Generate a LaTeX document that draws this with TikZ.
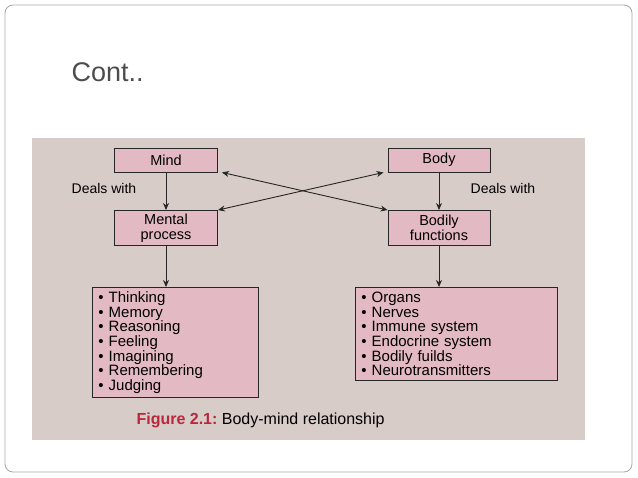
\documentclass[tikz,border=0pt]{standalone}
\usepackage{fontspec}
\setmainfont{Liberation Sans}
\usetikzlibrary{arrows.meta}
\definecolor{photo}{HTML}{D8CCC8}
\definecolor{boxpink}{HTML}{E3B9C3}
\definecolor{capred}{HTML}{B8283A}
\begin{document}
\begin{tikzpicture}[x=1pt,y=-1pt,
  bx/.style={draw=black!85,line width=0.9pt,fill=boxpink,align=center,font=\fontsize{14.5}{15}\selectfont,inner sep=0pt},
  ar/.style={-{Stealth[length=7pt,width=6pt]},line width=0.9pt,black!85},
  lst/.style={draw=black!85,line width=0.9pt,fill=boxpink,align=left,anchor=north west,font=\fontsize{15}{14.7}\selectfont,inner xsep=6pt,inner ysep=4pt,text width=#1}]
\useasboundingbox (0,0) rectangle (638,478);
\draw[black!35,line width=0.8pt,rounded corners=8pt] (5,5) rectangle (632,472);
\node[anchor=west,text=black!70,font=\fontsize{27}{27}\selectfont] (t) at (68,72) {Cont..};
\fill[photo] (32,138) rectangle (585,440);
\node[bx,minimum width=103pt,minimum height=24pt] (mind) at (166,160) {Mind};
\node[bx,minimum width=102pt,minimum height=24pt] (body) at (439,160) {Body};
\node[bx,minimum width=103pt,minimum height=35pt] (mp) at (166,228) {Mental\\process};
\node[bx,minimum width=102pt,minimum height=35pt] (bf) at (439,228) {Bodily\\functions};
\node[lst=154pt,minimum height=108pt] (l) at (92,287) {• Thinking\\• Memory\\• Reasoning\\• Feeling\\• Imagining\\• Remembering\\• Judging};
\node[lst=190pt,minimum height=93pt] (r) at (355,287) {• Organs\\• Nerves\\• Immune system\\• Endocrine system\\• Bodily fuilds\\• Neurotransmitters};
\node[font=\fontsize{14}{14}\selectfont] (d1) at (104,188) {Deals with};
\node[font=\fontsize{14}{14}\selectfont] (d2) at (503,188) {Deals with};
\draw[ar] (mind) -- (mp);
\draw[ar] (body) -- (bf);
\draw[ar] (mp) -- (l.north -| mp);
\draw[ar] (bf) -- (r.north -| bf);
\draw[ar,{Stealth[length=7pt,width=6pt]}-{Stealth[length=7pt,width=6pt]}] (mind.south east) ++(4,0) coordinate (a1) -- (bf.north west);
\draw[ar,{Stealth[length=7pt,width=6pt]}-{Stealth[length=7pt,width=6pt]}] (body.south west) ++(-4,0) coordinate (a2) -- (mp.north east);
\node[anchor=west,font=\fontsize{16}{16}\selectfont] (cap) at (133,420) {\textcolor{capred}{\textbf{Figure 2.1:}}\ Body-mind relationship};
\end{tikzpicture}
\end{document}
